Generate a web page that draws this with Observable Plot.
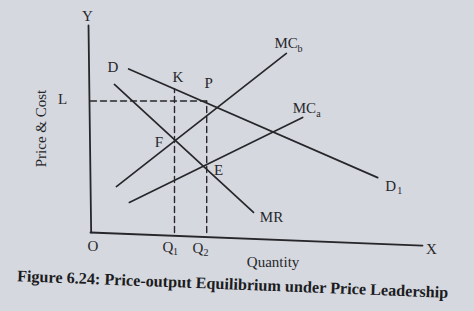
<!DOCTYPE html>
<html>
<head>
<meta charset="utf-8">
<script src="https://cdn.jsdelivr.net/npm/d3@7"></script>
<script src="https://cdn.jsdelivr.net/npm/@observablehq/plot@0.6"></script>
<style>
  html, body { margin: 0; padding: 0; background: #d5d8de; }
  #chart svg { display: block; background: #d5d8de; }
</style>
</head>
<body>
<div id="chart"></div>
<script>
// Curves of the price-leadership diagram: [quantity, price] end points
const demandD1 = [[11.5, 79], [86.5, 26.5]];
const marginalRevenue = [[7.2, 71.5], [49.1, 9.7]];
const mcB = [[7.8, 22.2], [59, 86.5]];
const mcA = [[11.7, 14.5], [63.9, 55.6]];

// Axis lines (the printed page is slightly tilted)
const yAxisLine = [[-0.6, 100], [0.2, 0]];
const xAxisLine = [[0, 0], [100, -6.3]];

// Equilibrium outputs and prices
const outputs = [25.3, 35];          // Q1, Q2
const leaderPrice = 63.5;            // L
const kPrice = 69.3;                 // K on D1 above Q1
const pointF = [25.3, 44.2];
const pointE = [35, 33];

const serif = "'Liberation Serif', 'Times New Roman', serif";
const ink = "#27272b";

function label(pt, text, dx, dy, opts = {}) {
  return Plot.text([pt], {
    x: d => d[0], y: d => d[1], text: () => text, dx, dy,
    fontFamily: serif, fontSize: 15, fill: ink, textAnchor: "middle", ...opts
  });
}
function sub(pt, text, dx, dy) {
  return label(pt, text, dx, dy, {fontSize: 10, textAnchor: "start"});
}
function seg(pts, opts = {}) {
  return Plot.line(pts, {x: d => d[0], y: d => d[1], stroke: ink, strokeWidth: 1.7, ...opts});
}
const dash = {strokeWidth: 1.4, strokeDasharray: "6,4"};

const chart = Plot.plot({
  width: 474,
  height: 311,
  marginTop: 0, marginRight: 0, marginBottom: 0, marginLeft: 0,
  x: {domain: [0, 100], range: [90, 422], axis: null},
  y: {domain: [0, 100], range: [232, 25], axis: null},
  style: {background: "#d5d8de", overflow: "visible"},
  marks: [
    // axes
    seg(yAxisLine, {strokeWidth: 1.8}),
    seg(xAxisLine, {strokeWidth: 1.8}),
    // dashed guides
    seg([[0, leaderPrice], [outputs[1], leaderPrice]], dash),
    seg([[outputs[0], 0], [outputs[0], kPrice]], dash),
    seg([[outputs[1], 0], [outputs[1], leaderPrice]], dash),
    // curves
    seg(demandD1),
    seg(marginalRevenue),
    seg(mcB),
    seg(mcA),
    // curve labels
    label(demandD1[0], "D", -15.7, -1.5),
    label(demandD1[1], "D", 13, 9),
    sub(demandD1[1], "1", 19.5, 13),
    label(marginalRevenue[1], "MR", 18, 5),
    label(mcB[1], "MC", -12, -10, {textAnchor: "start"}),
    sub(mcB[1], "b", 11, -5),
    label(mcA[1], "MC", -10, -9, {textAnchor: "start"}),
    sub(mcA[1], "a", 13.5, -4),
    // point labels
    label([outputs[0], kPrice], "K", 3.5, -11.5),
    label([outputs[1], leaderPrice], "P", 2, -17.5),
    label([0, leaderPrice], "L", -28, -1.5),
    label(pointF, "F", -15.5, 1.5),
    label(pointE, "E", 12, 6),
    // axis labels
    label([0, 0], "O", 2.5, 14),
    label([outputs[0], 0], "Q", -6.5, 15),
    sub([outputs[0], 0], "1", -1.5, 19),
    label([outputs[1], 0], "Q", -8.7, 16),
    sub([outputs[1], 0], "2", -3.2, 20),
    label(xAxisLine[1], "X", 9, 4),
    label(yAxisLine[0], "Y", -1, -9),
    label([55, 0], "Quantity", 0, 30),
    Plot.text(["Price & Cost"], {
      x: 0, y: 50, text: d => d, dx: -49, dy: -0.5, rotate: -90,
      fontFamily: serif, fontSize: 15, fill: ink
    }),
    // figure caption
    Plot.text(["Figure 6.24: Price-output Equilibrium under Price Leadership"], {
      frameAnchor: "bottom", text: d => d, dx: -5, dy: -22, rotate: 2.2,
      fontFamily: serif, fontSize: 16.2, fontWeight: "bold", fill: "#1c1c1f"
    })
  ]
});
document.getElementById("chart").append(chart);
</script>
</body>
</html>
